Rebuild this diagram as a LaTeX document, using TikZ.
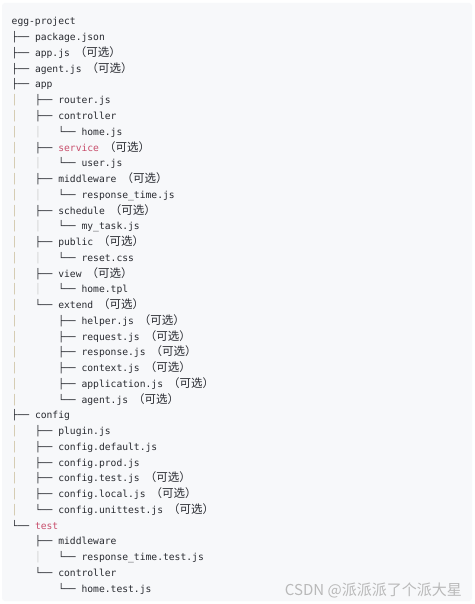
\documentclass[tikz,border=0pt]{standalone}
\usepackage{fontspec}
\newfontfamily\codefont{DejaVu Sans Mono}
\newfontfamily\cjk{Noto Sans CJK SC}
\definecolor{codetext}{RGB}{40,42,48}
\definecolor{barA}{RGB}{204,192,158}
\definecolor{barB}{RGB}{206,206,206}
\definecolor{redname}{RGB}{200,78,108}
\definecolor{codebg}{RGB}{247,248,250}
\definecolor{wmgray}{RGB}{185,185,185}
\newcommand\ly[1]{-25-(#1-1)*15.75}
\newcommand\cz{11.5}
\newcommand\ca{34.8}
\newcommand\cb{58.1}
\newcommand\cc{81.4}
\newcommand\opt{\hspace{5pt}{\cjk\fontsize{11.5}{13}\selectfont （可选）}}
\begin{document}
\begin{tikzpicture}[x=1pt,y=1pt,
  txt/.style={anchor=base west,inner sep=0pt,text=codetext,font=\codefont\fontsize{9.67}{11}\selectfont},
  red/.style={txt,text=redname},
  tree/.style={txt},
  bara/.style={txt,text=barA},
  barb/.style={txt,text=barB}]
\useasboundingbox (0,0) rectangle (474,-604);
\fill[white] (0,0) rectangle (474,-604);
\fill[codebg,rounded corners=3pt] (2,-3) rectangle (472,-601);
% level 0
\node[txt] (n1) at (\cz,{\ly{1}}) {egg-project};
% level 1
\node[tree] (p2) at (\cz,{\ly{2}}) {├──};
\node[txt] (n2) at (\ca,{\ly{2}}) {package.json};
\node[tree] (p3) at (\cz,{\ly{3}}) {├──};
\node[txt] (n3) at (\ca,{\ly{3}}) {app.js\opt};
\node[tree] (p4) at (\cz,{\ly{4}}) {├──};
\node[txt] (n4) at (\ca,{\ly{4}}) {agent.js\opt};
\node[tree] (p5) at (\cz,{\ly{5}}) {├──};
\node[txt] (n5) at (\ca,{\ly{5}}) {app};
% app children
\foreach \r in {6,...,25} {\node[bara] (ba\r) at (\cz,{\ly{\r}}) {│};}
\node[tree] (p6) at (\ca,{\ly{6}}) {├──};
\node[txt] (n6) at (\cb,{\ly{6}}) {router.js};
\node[tree] (p7) at (\ca,{\ly{7}}) {├──};
\node[txt] (n7) at (\cb,{\ly{7}}) {controller};
\node[barb] (bb8) at (\ca,{\ly{8}}) {│};
\node[tree] (p8) at (\cb,{\ly{8}}) {└──};
\node[txt] (n8) at (\cc,{\ly{8}}) {home.js};
\node[tree] (p9) at (\ca,{\ly{9}}) {├──};
\node[red] (n9) at (\cb,{\ly{9}}) {service\textcolor{codetext}{\opt}};
\node[barb] (bb10) at (\ca,{\ly{10}}) {│};
\node[tree] (p10) at (\cb,{\ly{10}}) {└──};
\node[txt] (n10) at (\cc,{\ly{10}}) {user.js};
\node[tree] (p11) at (\ca,{\ly{11}}) {├──};
\node[txt] (n11) at (\cb,{\ly{11}}) {middleware\opt};
\node[barb] (bb12) at (\ca,{\ly{12}}) {│};
\node[tree] (p12) at (\cb,{\ly{12}}) {└──};
\node[txt] (n12) at (\cc,{\ly{12}}) {response\_time.js};
\node[tree] (p13) at (\ca,{\ly{13}}) {├──};
\node[txt] (n13) at (\cb,{\ly{13}}) {schedule\opt};
\node[barb] (bb14) at (\ca,{\ly{14}}) {│};
\node[tree] (p14) at (\cb,{\ly{14}}) {└──};
\node[txt] (n14) at (\cc,{\ly{14}}) {my\_task.js};
\node[tree] (p15) at (\ca,{\ly{15}}) {├──};
\node[txt] (n15) at (\cb,{\ly{15}}) {public\opt};
\node[barb] (bb16) at (\ca,{\ly{16}}) {│};
\node[tree] (p16) at (\cb,{\ly{16}}) {└──};
\node[txt] (n16) at (\cc,{\ly{16}}) {reset.css};
\node[tree] (p17) at (\ca,{\ly{17}}) {├──};
\node[txt] (n17) at (\cb,{\ly{17}}) {view\opt};
\node[barb] (bb18) at (\ca,{\ly{18}}) {│};
\node[tree] (p18) at (\cb,{\ly{18}}) {└──};
\node[txt] (n18) at (\cc,{\ly{18}}) {home.tpl};
\node[tree] (p19) at (\ca,{\ly{19}}) {└──};
\node[txt] (n19) at (\cb,{\ly{19}}) {extend\opt};
% extend children
\node[tree] (p20) at (\cb,{\ly{20}}) {├──};
\node[txt] (n20) at (\cc,{\ly{20}}) {helper.js\opt};
\node[tree] (p21) at (\cb,{\ly{21}}) {├──};
\node[txt] (n21) at (\cc,{\ly{21}}) {request.js\opt};
\node[tree] (p22) at (\cb,{\ly{22}}) {├──};
\node[txt] (n22) at (\cc,{\ly{22}}) {response.js\opt};
\node[tree] (p23) at (\cb,{\ly{23}}) {├──};
\node[txt] (n23) at (\cc,{\ly{23}}) {context.js\opt};
\node[tree] (p24) at (\cb,{\ly{24}}) {├──};
\node[txt] (n24) at (\cc,{\ly{24}}) {application.js\opt};
\node[tree] (p25) at (\cb,{\ly{25}}) {└──};
\node[txt] (n25) at (\cc,{\ly{25}}) {agent.js\opt};
% config
\node[tree] (p26) at (\cz,{\ly{26}}) {├──};
\node[txt] (n26) at (\ca,{\ly{26}}) {config};
\foreach \r in {27,...,32} {\node[bara] (ba\r) at (\cz,{\ly{\r}}) {│};}
\node[tree] (p27) at (\ca,{\ly{27}}) {├──};
\node[txt] (n27) at (\cb,{\ly{27}}) {plugin.js};
\node[tree] (p28) at (\ca,{\ly{28}}) {├──};
\node[txt] (n28) at (\cb,{\ly{28}}) {config.default.js};
\node[tree] (p29) at (\ca,{\ly{29}}) {├──};
\node[txt] (n29) at (\cb,{\ly{29}}) {config.prod.js};
\node[tree] (p30) at (\ca,{\ly{30}}) {├──};
\node[txt] (n30) at (\cb,{\ly{30}}) {config.test.js\opt};
\node[tree] (p31) at (\ca,{\ly{31}}) {├──};
\node[txt] (n31) at (\cb,{\ly{31}}) {config.local.js\opt};
\node[tree] (p32) at (\ca,{\ly{32}}) {└──};
\node[txt] (n32) at (\cb,{\ly{32}}) {config.unittest.js\opt};
% test
\node[tree] (p33) at (\cz,{\ly{33}}) {└──};
\node[red] (n33) at (\ca,{\ly{33}}) {test};
\node[tree] (p34) at (\ca,{\ly{34}}) {├──};
\node[txt] (n34) at (\cb,{\ly{34}}) {middleware};
\node[barb] (bb35) at (\ca,{\ly{35}}) {│};
\node[tree] (p35) at (\cb,{\ly{35}}) {└──};
\node[txt] (n35) at (\cc,{\ly{35}}) {response\_time.test.js};
\node[tree] (p36) at (\ca,{\ly{36}}) {└──};
\node[txt] (n36) at (\cb,{\ly{36}}) {controller};
\node[tree] (p37) at (\cb,{\ly{37}}) {└──};
\node[txt] (n37) at (\cc,{\ly{37}}) {home.test.js};
% watermark
\node[anchor=base east,inner sep=0pt,text=wmgray,font=\cjk\fontsize{15}{17}\selectfont] (wm) at (462,-595) {CSDN @派派派了个派大星};
\end{tikzpicture}
\end{document}
